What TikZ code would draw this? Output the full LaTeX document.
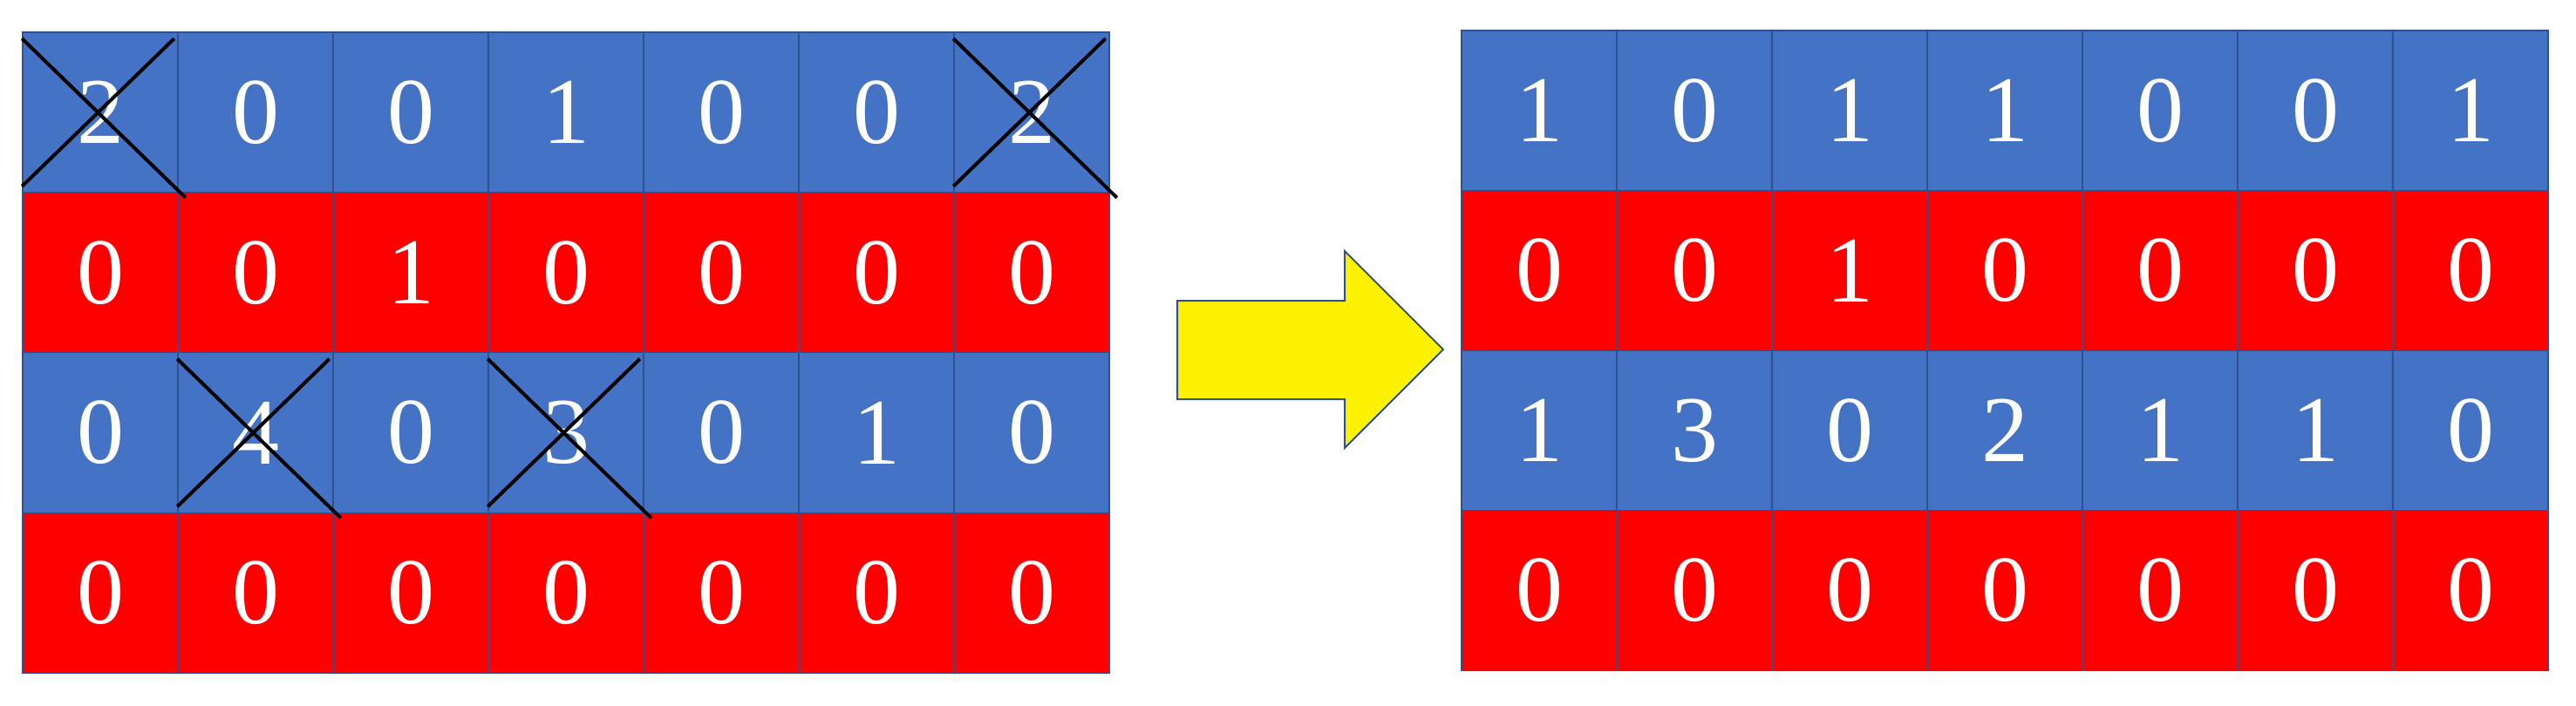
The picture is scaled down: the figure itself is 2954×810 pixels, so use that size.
\documentclass[tikz,border=0pt]{standalone}
\usepackage{fontspec}
\setmainfont{Liberation Serif}
\definecolor{cblue}{HTML}{4472C4}
\definecolor{cred}{HTML}{FF0000}
\definecolor{edge}{HTML}{2F528F}
\tikzset{cell/.style={draw=edge,line width=1.5pt,minimum width=178pt,minimum height=184pt,inner sep=0pt,text=white,font=\fontsize{108}{108}\selectfont},
cross/.style={line width=4pt,black}}
\begin{document}
\begin{tikzpicture}[x=1pt,y=-1pt]
\useasboundingbox (0,0) rectangle (2954,810);
\foreach \r/\vals in {0/{2,0,0,1,0,0,2},1/{0,0,1,0,0,0,0},2/{0,4,0,3,0,1,0},3/{0,0,0,0,0,0,0}}{
  \pgfmathtruncatemacro{\isodd}{mod(\r,2)}
  \foreach \v [count=\c from 0] in \vals {
    \ifnum\isodd=0 \def\fc{cblue}\else\def\fc{cred}\fi
    \node[cell,fill=\fc] (L\r\c) at ({26+178*\c+89},{37+183.75*\r+92}) {\v};
  }
}
\foreach \r/\vals in {0/{1,0,1,1,0,0,1},1/{0,0,1,0,0,0,0},2/{1,3,0,2,1,1,0},3/{0,0,0,0,0,0,0}}{
  \pgfmathtruncatemacro{\isodd}{mod(\r,2)}
  \foreach \v [count=\c from 0] in \vals {
    \ifnum\isodd=0 \def\fc{cblue}\else\def\fc{cred}\fi
    \node[cell,fill=\fc] (R\r\c) at ({1676+178*\c+89},{35+183.5*\r+92}) {\v};
  }
}
\foreach \n in {L00,L06,L21,L23}{
  \draw[cross] ([shift={(0,8)}]\n.north west) -- ([shift={(8,5)}]\n.south east);
  \draw[cross] ([shift={(0,-8)}]\n.south west) -- ([shift={(-5,8)}]\n.north east);
}
\draw[draw=edge,line width=2pt,fill=yellow] (1350,345) -- (1542,345) -- (1542,288) -- (1655,401) -- (1542,514) -- (1542,458) -- (1350,458) -- cycle;
\end{tikzpicture}
\end{document}
